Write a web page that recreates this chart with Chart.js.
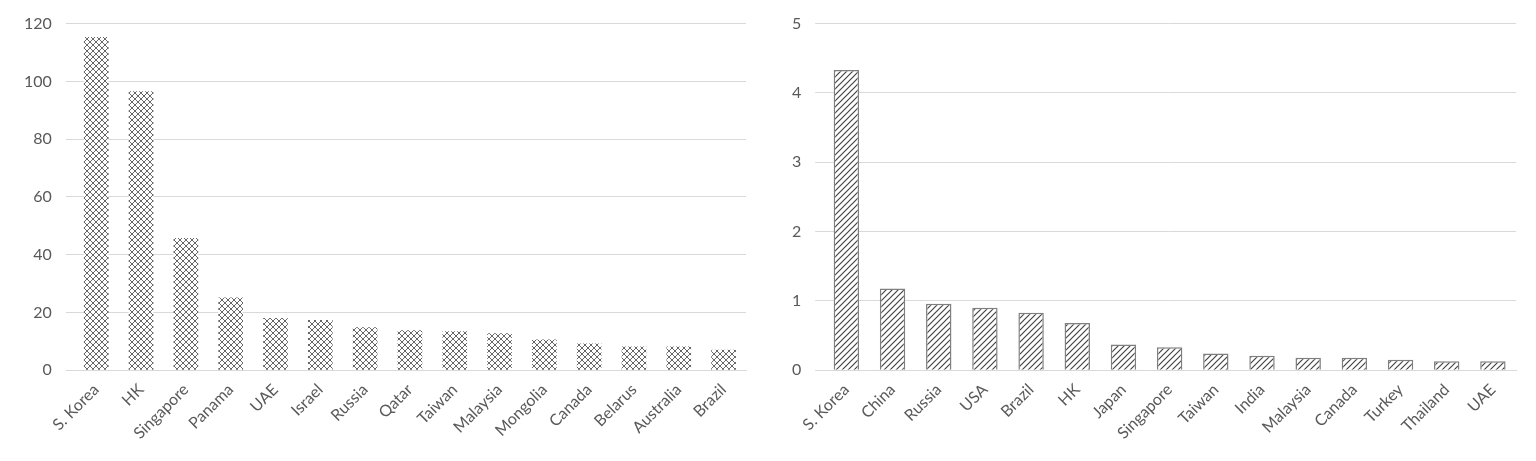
<!DOCTYPE html><html><head><script src="https://cdn.jsdelivr.net/npm/chart.js@4"></script>
<style>body{margin:0;background:#fff;width:1536px;height:461px;overflow:hidden;display:flex}
.w{position:relative;width:768px;height:461px}</style></head><body>
<div class="w"><canvas id="c1"></canvas></div><div class="w"><canvas id="c2"></canvas></div>
<script>
const cats1=["S. Korea","HK","Singapore","Panama","UAE","Israel","Russia","Qatar","Taiwan","Malaysia","Mongolia","Canada","Belarus","Australia","Brazil"];
const vals1=[115.4,96.6,45.8,25.2,18.1,17.4,14.9,13.8,13.5,12.8,10.6,9.2,8.2,8.2,7.1];
const cats2=["S. Korea","China","Russia","USA","Brazil","HK","Japan","Singapore","Taiwan","India","Malaysia","Canada","Turkey","Thailand","UAE"];
const vals2=[4.33,1.18,0.96,0.9,0.83,0.68,0.37,0.33,0.24,0.21,0.18,0.18,0.15,0.13,0.13];
function cross(){const c=document.createElement('canvas');c.width=c.height=6;const x=c.getContext('2d');x.fillStyle='#fff';x.fillRect(0,0,6,6);x.strokeStyle='#666';x.lineWidth=1;x.beginPath();x.moveTo(0,0);x.lineTo(6,6);x.moveTo(6,0);x.lineTo(0,6);x.stroke();return x.createPattern(c,'repeat');}
function diag(){const c=document.createElement('canvas');c.width=c.height=6;const x=c.getContext('2d');x.fillStyle='#fff';x.fillRect(0,0,6,6);x.strokeStyle='#444';x.lineWidth=1.2;x.beginPath();x.moveTo(0,6);x.lineTo(6,0);x.moveTo(-1,1);x.lineTo(1,-1);x.moveTo(5,7);x.lineTo(7,5);x.stroke();return x.createPattern(c,'repeat');}
Chart.defaults.font.family="Lato, 'Open Sans', sans-serif";
Chart.defaults.color='#595959';
function mk(id,cats,vals,max,step,bg,border,pad){
 new Chart(document.getElementById(id),{type:'bar',data:{labels:cats,datasets:[{data:vals,backgroundColor:bg,borderColor:border,borderWidth:border?1.5:0,categoryPercentage:1,barPercentage:0.55}]},
 options:{responsive:false,animation:false,devicePixelRatio:1,layout:{padding:pad},plugins:{legend:{display:false},tooltip:{enabled:false}},
 scales:{x:{grid:{display:false},border:{color:'#d9d9d9'},ticks:{font:{size:16},maxRotation:45,minRotation:45,padding:2}},
 y:{min:0,max:max,ticks:{stepSize:step,font:{size:16},padding:14},grid:{color:'#d9d9d9'},border:{display:false}}}}});
}
for(const id of['c1','c2']){const e=document.getElementById(id);e.width=768;e.height=461;}
mk('c1',cats1,vals1,120,20,cross(),null,{left:10,right:22,top:14,bottom:16});
mk('c2',cats2,vals2,5,1,diag(),'#7f7f7f',{left:10,right:20,top:14,bottom:16});
</script></body></html>
